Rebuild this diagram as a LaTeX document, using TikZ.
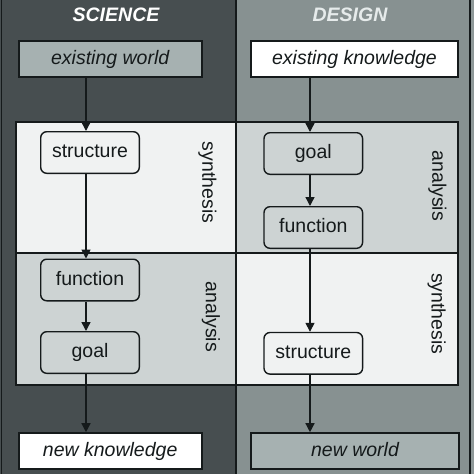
\documentclass[tikz,border=0pt]{standalone}
\usepackage{fontspec}
\setmainfont{Liberation Sans}
\usetikzlibrary{arrows.meta}
\definecolor{darkpanel}{HTML}{474E50}
\definecolor{midpanel}{HTML}{879191}
\definecolor{edgepanel}{HTML}{8F9999}
\definecolor{graybox}{HTML}{A6B1B1}
\definecolor{lightcell}{HTML}{F0F2F2}
\definecolor{medcell}{HTML}{CDD3D3}
\definecolor{inkline}{HTML}{151A1B}
\definecolor{designtitle}{HTML}{E6EBEB}
\begin{document}
\begin{tikzpicture}[x=1pt,y=-1pt,
  every node/.style={font=\fontsize{19.5}{23}\selectfont, text=inkline},
  endbox/.style={draw=inkline, line width=1.6pt, minimum height=36pt, inner sep=0pt,
    text height=14pt, text depth=4pt, font=\fontsize{19.5}{23}\selectfont\itshape},
  stepbox/.style={draw=inkline, line width=1.4pt, rounded corners=6pt, minimum width=98.6pt,
    minimum height=41.6pt, inner sep=0pt, text height=14pt, text depth=4pt},
  title/.style={font=\fontsize{19.5}{23}\selectfont\bfseries\itshape, anchor=base},
  phase/.style={rotate=-90},
  arr/.style={draw=inkline, line width=1.4pt, -{Triangle[width=9pt,length=9pt]}}]
\useasboundingbox (0,0) rectangle (474,474);
% panels
\fill[darkpanel] (0,0) rectangle (236,474);
\fill[midpanel] (236,0) rectangle (474,474);
\fill[edgepanel] (470,0) rectangle (474,474);
% middle frame cells
\fill[lightcell] (16,122) rectangle (236,253);
\fill[medcell] (236,122) rectangle (458,253);
\fill[medcell] (16,253) rectangle (236,385);
\fill[lightcell] (236,253) rectangle (458,385);
\draw[inkline, line width=1.6pt] (16,122) rectangle (458,385);
\draw[inkline, line width=1.6pt] (16,253) -- (458,253);
% outer lines and divider
\draw[inkline, line width=1.4pt] (1.5,0) -- (1.5,474);
\draw[inkline, line width=1.4pt] (470,0) -- (470,474);
\draw[inkline, line width=1.8pt] (236,0) -- (236,474);
% titles
\node[title, text=white] (sci) at (116,21.7) {SCIENCE};
\node[title, text=designtitle] (des) at (350,21.7) {DESIGN};
% end boxes
\node[endbox, fill=graybox, minimum width=183pt] (ew) at (110.2,59) {existing world};
\node[endbox, fill=white, minimum width=207pt] (ek) at (354.5,59) {existing knowledge};
\node[endbox, fill=white, minimum width=183pt] (nk) at (110.2,451) {new knowledge};
\node[endbox, fill=graybox, minimum width=208pt] (nw) at (355,451) {new world};
% step boxes
\node[stepbox, fill=lightcell] (s1) at (90,152.5) {structure};
\node[stepbox, fill=medcell] (f2) at (90,280) {function};
\node[stepbox, fill=medcell] (g2) at (90,352.5) {goal};
\node[stepbox, fill=medcell] (g1) at (313.3,153.5) {goal};
\node[stepbox, fill=medcell] (f1) at (313.3,227.5) {function};
\node[stepbox, fill=lightcell] (s2) at (313.3,353.3) {structure};
% phase labels
\node[phase] (ls) at (207.5,182.5) {synthesis};
\node[phase] (ra) at (437.5,185.8) {analysis};
\node[phase] (la) at (211,316.7) {analysis};
\node[phase] (rs) at (436.7,313.8) {synthesis};
% columns
\coordinate (cl) at (86,0);
\coordinate (cr) at (310,0);
% arrows
\draw[arr] (ew.south -| cl) -- (s1.north -| cl);
\draw[arr] (s1.south -| cl) -- (f2.north -| cl);
\draw[arr] (f2.south -| cl) -- (g2.north -| cl);
\draw[arr] (g2.south -| cl) -- (nk.north -| cl);
\draw[arr] (ek.south -| cr) -- (g1.north -| cr);
\draw[arr] (g1.south -| cr) -- (f1.north -| cr);
\draw[arr] (f1.south -| cr) -- (s2.north -| cr);
\draw[arr] (s2.south -| cr) -- (nw.north -| cr);
\end{tikzpicture}
\end{document}
